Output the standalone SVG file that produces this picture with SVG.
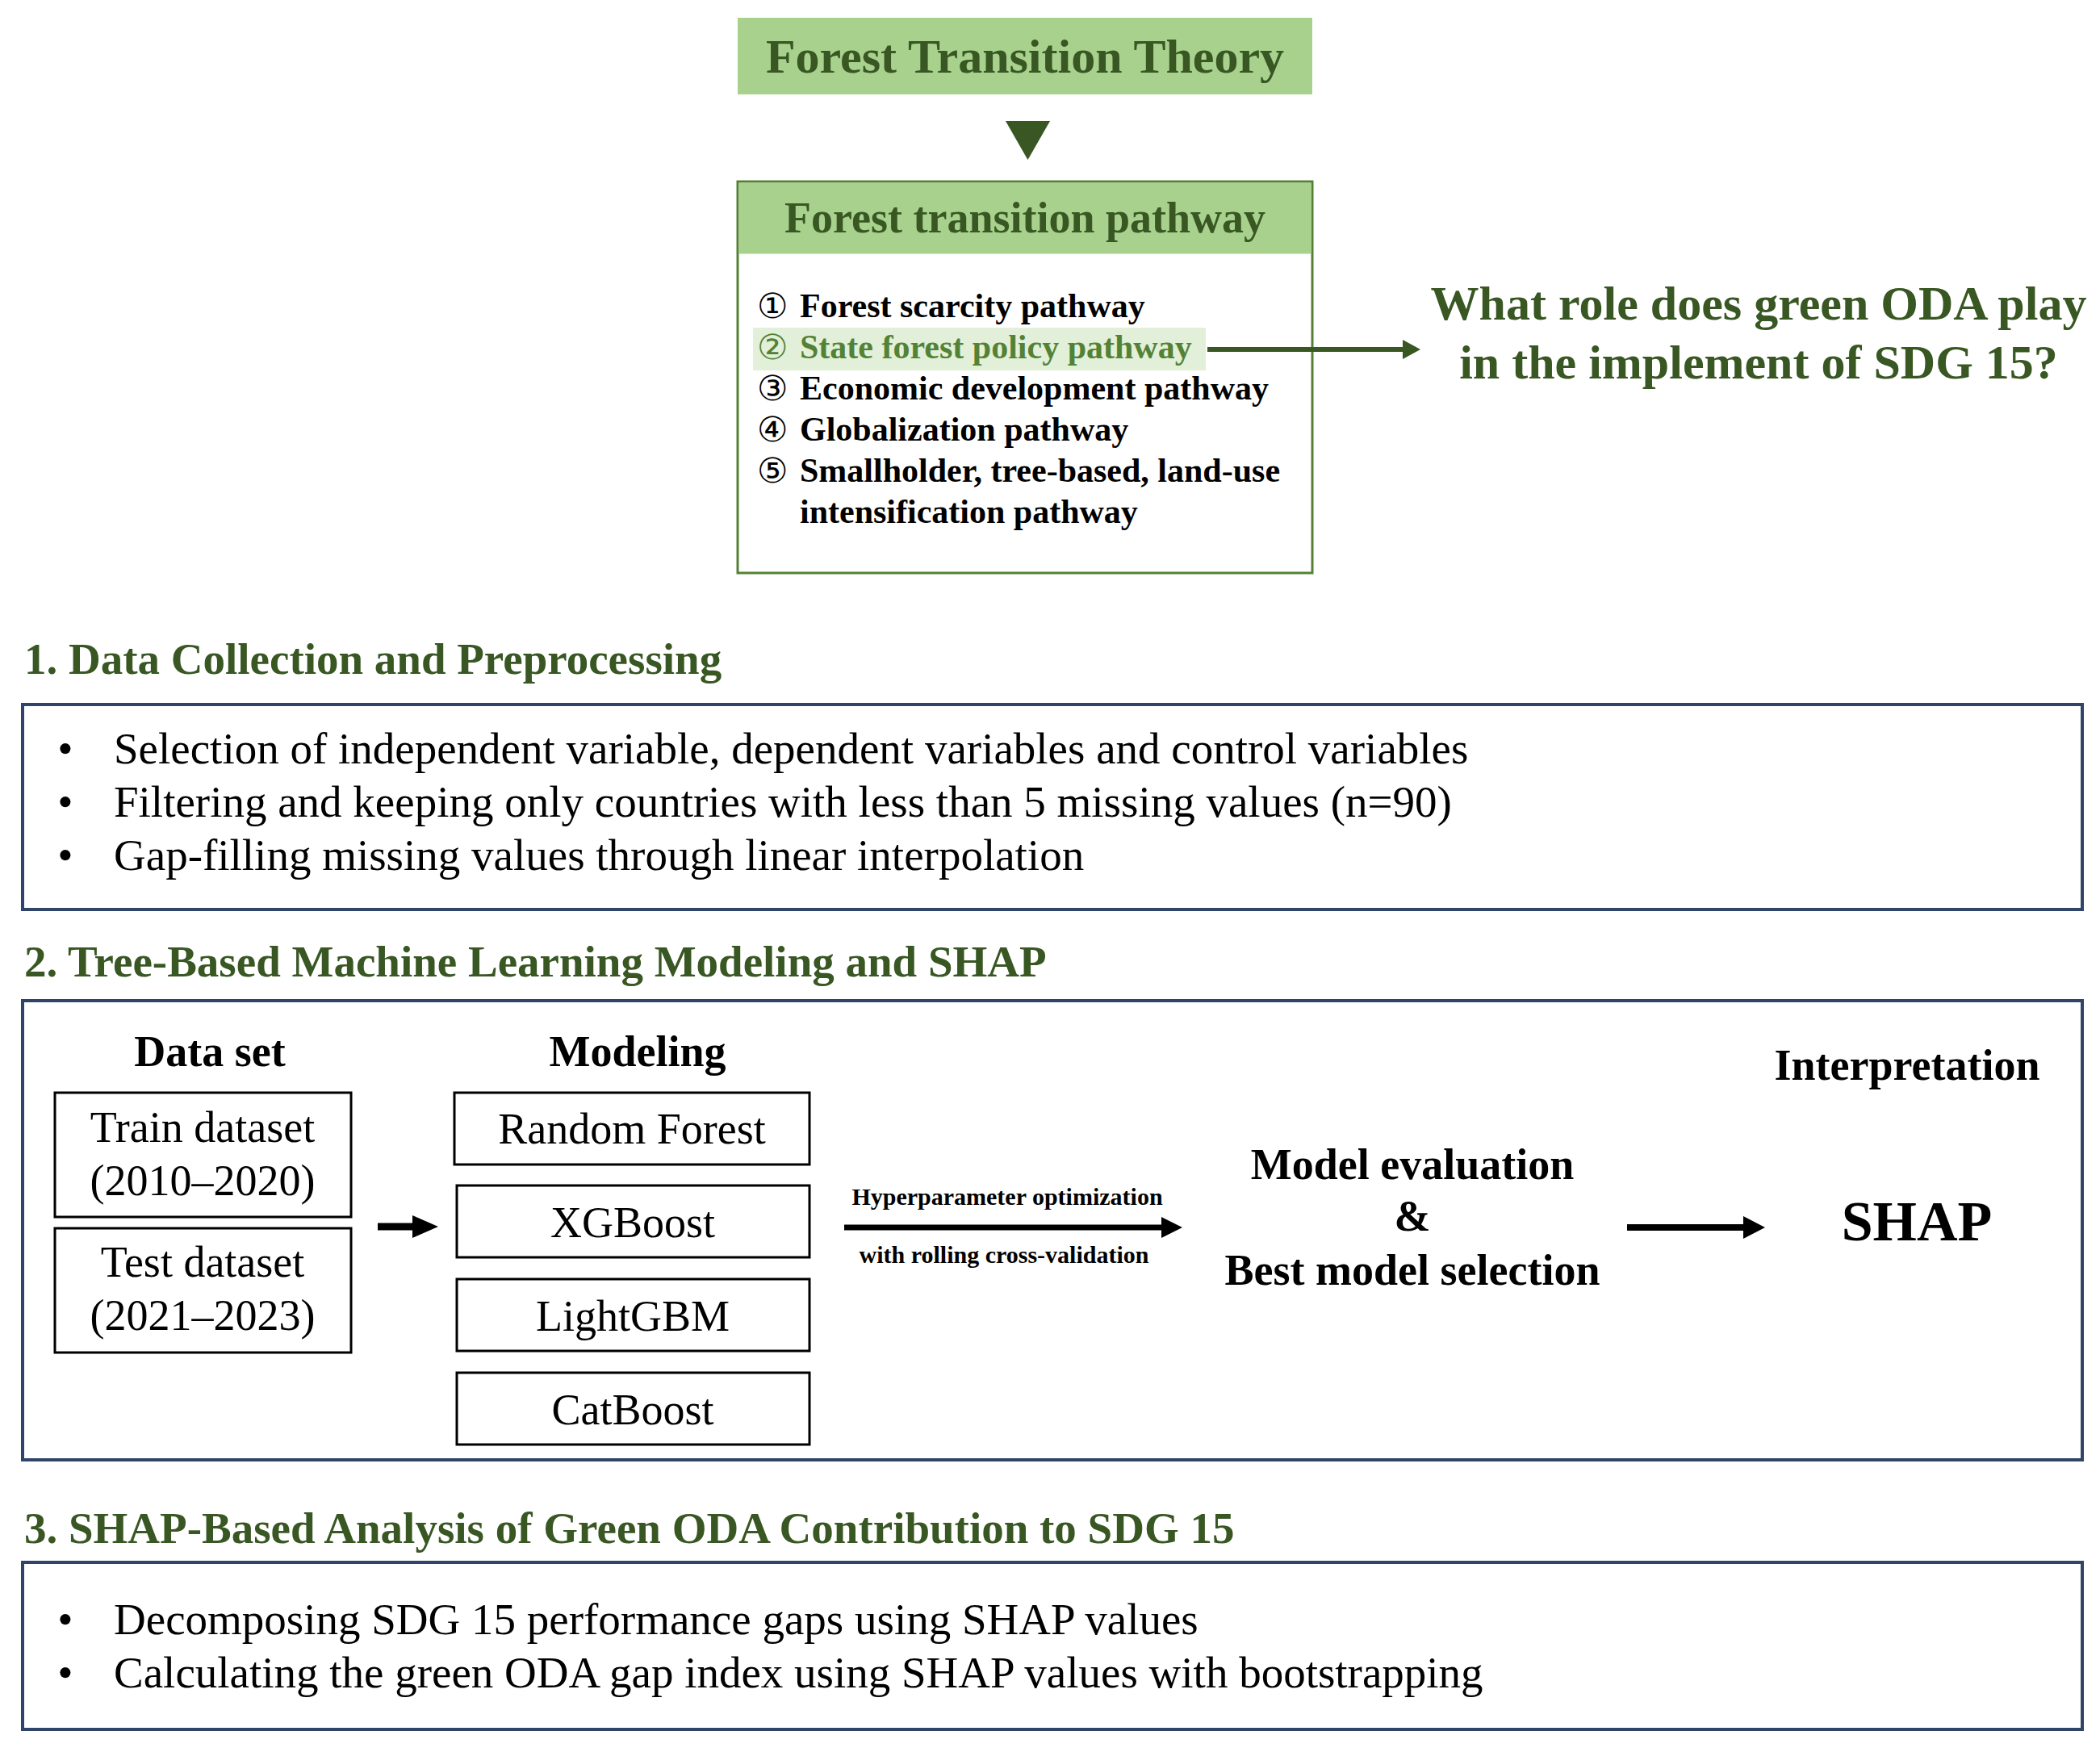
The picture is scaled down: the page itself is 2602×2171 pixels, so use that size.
<svg xmlns="http://www.w3.org/2000/svg" width="2602" height="2171" viewBox="0 0 2602 2171">
<style>
text{font-family:"Liberation Serif","Times New Roman",serif;}
.b{font-weight:bold;}
.g{fill:#385723;}
.item{font-size:42px;font-weight:bold;fill:#000;}
.circ{font-family:"DejaVu Sans",sans-serif;font-size:43px;font-weight:normal;}
.sec{font-size:55px;font-weight:bold;fill:#385723;}
.bul{font-size:55px;fill:#000;}
.secbox{fill:none;stroke:#2f4468;stroke-width:4;}
.box{fill:#fff;stroke:#000;stroke-width:3;}
.lbl{font-size:54px;fill:#000;text-anchor:middle;}
.mid{text-anchor:middle;}
</style>
<rect width="2602" height="2171" fill="#fff"/>

<g id="forest-transition-theory">
<rect x="914" y="22" width="712" height="95" fill="#a9d18e"/>
<text x="1270" y="90" class="b g mid" font-size="60">Forest Transition Theory</text>
</g>

<g id="forest-transition-pathway">
<rect x="914" y="225" width="712" height="485" fill="#fff" stroke="#548235" stroke-width="3"/>
<rect x="915.5" y="226.5" width="709" height="88" fill="#a9d18e"/>
<text x="1270" y="288" class="b g mid" font-size="54">Forest transition pathway</text>
<rect x="933" y="406" width="561" height="53" fill="#e2f0d9"/>
<text x="938" y="393" class="item"><tspan class="circ" y="394">①</tspan><tspan x="991" y="393">Forest scarcity pathway</tspan></text>
<text x="938" y="444" class="item" style="fill:#548235"><tspan class="circ" y="445">②</tspan><tspan x="991" y="444">State forest policy pathway</tspan></text>
<text x="938" y="495" class="item"><tspan class="circ" y="496">③</tspan><tspan x="991" y="495">Economic development pathway</tspan></text>
<text x="938" y="546" class="item"><tspan class="circ" y="547">④</tspan><tspan x="991" y="546">Globalization pathway</tspan></text>
<text x="938" y="597" class="item"><tspan class="circ" y="598">⑤</tspan><tspan x="991" y="597">Smallholder, tree-based, land-use</tspan></text>
<text x="991" y="648" class="item">intensification pathway</text>
</g>

<g id="research-question">
<text x="2179" y="396" class="b g mid" font-size="60">What role does green ODA play</text>
<text x="2179" y="469" class="b g mid" font-size="60">in the implement of SDG 15?</text>
</g>

<g id="section1">
<text x="30" y="835" class="sec">1. Data Collection and Preprocessing</text>
<rect x="28" y="873" width="2552" height="254" class="secbox"/>
<text x="81" y="946" class="bul mid">•</text>
<text x="141" y="946" class="bul">Selection of independent variable, dependent variables and control variables</text>
<text x="81" y="1012" class="bul mid">•</text>
<text x="141" y="1012" class="bul">Filtering and keeping only countries with less than 5 missing values (n=90)</text>
<text x="81" y="1078" class="bul mid">•</text>
<text x="141" y="1078" class="bul">Gap-filling missing values through linear interpolation</text>
</g>

<g id="section2">
<text x="30" y="1210" class="sec">2. Tree-Based Machine Learning Modeling and SHAP</text>
<rect x="28" y="1240" width="2552" height="569" class="secbox"/>
<text x="260" y="1321" class="lbl b">Data set</text>
<text x="790" y="1321" class="lbl b">Modeling</text>
<text x="2363" y="1338" class="lbl b">Interpretation</text>
</g>

<g id="train-dataset">
<rect x="68" y="1354" width="367" height="154" class="box"/>
<text x="251" y="1415" class="lbl">Train dataset</text>
<text x="251" y="1481" class="lbl">(2010–2020)</text>
</g>
<g id="test-dataset">
<rect x="68" y="1522" width="367" height="154" class="box"/>
<text x="251" y="1582" class="lbl">Test dataset</text>
<text x="251" y="1648" class="lbl">(2021–2023)</text>
</g>
<g id="random-forest">
<rect x="563" y="1354" width="440" height="89" class="box"/>
<text x="783" y="1417" class="lbl">Random Forest</text>
</g>
<g id="xgboost">
<rect x="566" y="1469" width="437" height="89" class="box"/>
<text x="784" y="1533" class="lbl">XGBoost</text>
</g>
<g id="lightgbm">
<rect x="566" y="1585" width="437" height="89" class="box"/>
<text x="784" y="1649" class="lbl">LightGBM</text>
</g>
<g id="catboost">
<rect x="566" y="1701" width="437" height="89" class="box"/>
<text x="784" y="1765" class="lbl">CatBoost</text>
</g>
<g id="model-evaluation">
<text x="1750" y="1461" class="lbl b">Model evaluation</text>
<text x="1750" y="1525" class="lbl b">&amp;</text>
<text x="1750" y="1592" class="lbl b">Best model selection</text>
</g>
<g id="shap">
<text x="2375" y="1537" class="lbl b" style="font-size:70px">SHAP</text>
</g>

<g id="section3">
<text x="30" y="1912" class="sec">3. SHAP-Based Analysis of Green ODA Contribution to SDG 15</text>
<rect x="28" y="1936" width="2552" height="207" class="secbox"/>
<text x="81" y="2025" class="bul mid">•</text>
<text x="141" y="2025" class="bul">Decomposing SDG 15 performance gaps using SHAP values</text>
<text x="81" y="2091" class="bul mid">•</text>
<text x="141" y="2091" class="bul">Calculating the green ODA gap index using SHAP values with bootstrapping</text>
</g>

<g id="connectors">
<polygon points="1246,150 1301,150 1273.5,198" fill="#385723"/>
<line x1="1496" y1="433" x2="1742" y2="433" stroke="#385723" stroke-width="6"/>
<polygon points="1738,421 1760,433 1738,445" fill="#385723"/>
<line x1="468" y1="1520" x2="515" y2="1520" stroke="#000" stroke-width="9"/>
<polygon points="511,1506 543,1520 511,1534" fill="#000"/>
<text x="1248" y="1493" class="b mid" font-size="30">Hyperparameter optimization</text>
<line x1="1046" y1="1521" x2="1442" y2="1521" stroke="#000" stroke-width="7"/>
<polygon points="1439,1508 1465,1521 1439,1534" fill="#000"/>
<text x="1244" y="1565" class="b mid" font-size="30">with rolling cross-validation</text>
<line x1="2016" y1="1521" x2="2164" y2="1521" stroke="#000" stroke-width="8"/>
<polygon points="2160,1507 2187,1521 2160,1535" fill="#000"/>
</g>
</svg>
